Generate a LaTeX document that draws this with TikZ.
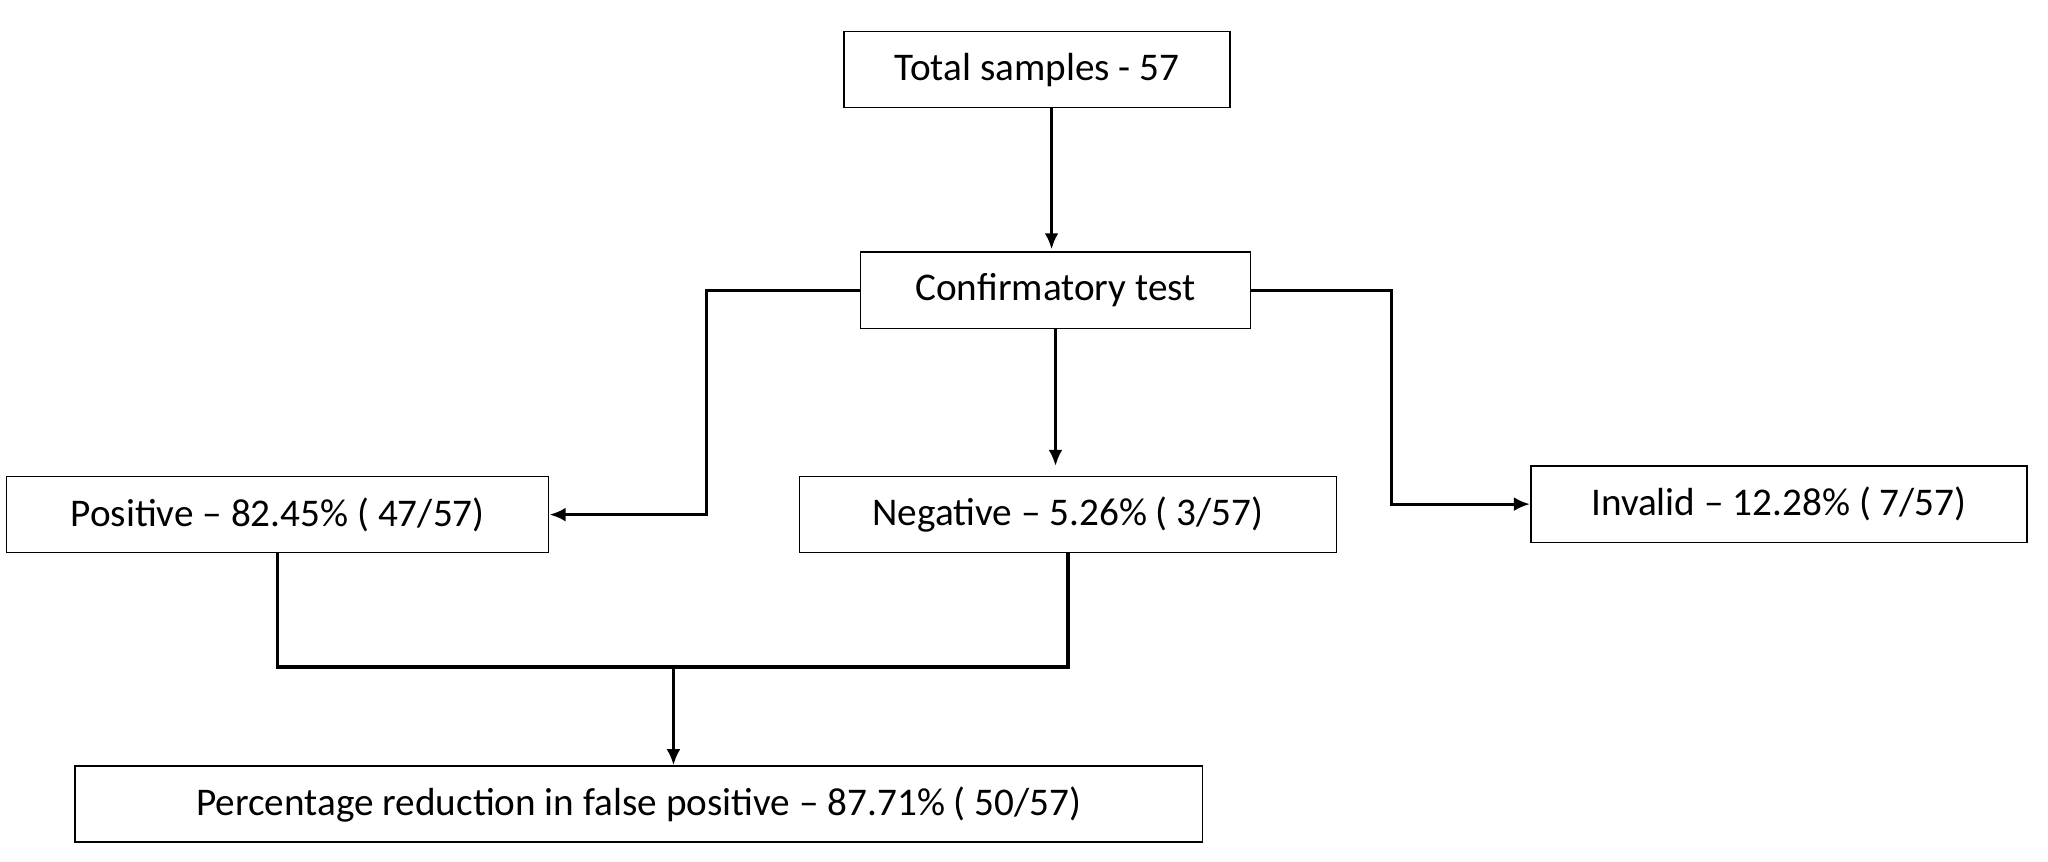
\documentclass[tikz,border=0pt]{standalone}
\usepackage{fontspec}
\setmainfont{Carlito}
\usetikzlibrary{arrows.meta}
\tikzset{
  box/.style={draw, line width=0.6pt, minimum height=1.16cm, inner sep=0pt, font=\fontsize{17}{20}\selectfont},
  link/.style={line width=1.4pt, -{Latex[length=7pt,width=6pt]}},
  joint/.style={line width=1.4pt}
}
\begin{document}
\begin{tikzpicture}[x=0.02cm,y=-0.02cm]
\useasboundingbox (0,0) rectangle (1560,656);
\node[box, minimum width=5.88cm] (total) at (790,53) {Total samples - 57};
\node[box, minimum width=5.94cm] (conf) at (804,221) {Confirmatory test};
\node[box, minimum width=8.26cm] (pos) at (211.5,392) {Positive -- 82.45\% ( 47/57)};
\node[box, minimum width=8.18cm] (neg) at (813.5,392) {Negative -- 5.26\% ( 3/57)};
\node[box, minimum width=7.56cm] (inv) at (1355,384) {Invalid -- 12.28\% ( 7/57)};
\node[box, minimum width=17.18cm] (red) at (486.5,612.5) {Percentage reduction in false positive -- 87.71\% ( 50/57)};

\coordinate (merge) at (513,508);
\draw[link] (total.south -| 801,0) -- (801,190);
\draw[link] (conf.south) -- (804,355);
\draw[link] (conf.west) -- (538,221) -- (538,392) -- (pos.east);
\draw[link] (conf.east) -- (1060,221) -- (1060,384) -- (inv.west);
\draw[joint] (pos.south) -- (211.5,508) -- (813.5,508) -- (neg.south);
\draw[link] (merge) -- (red.north -| merge);
\end{tikzpicture}
\end{document}
